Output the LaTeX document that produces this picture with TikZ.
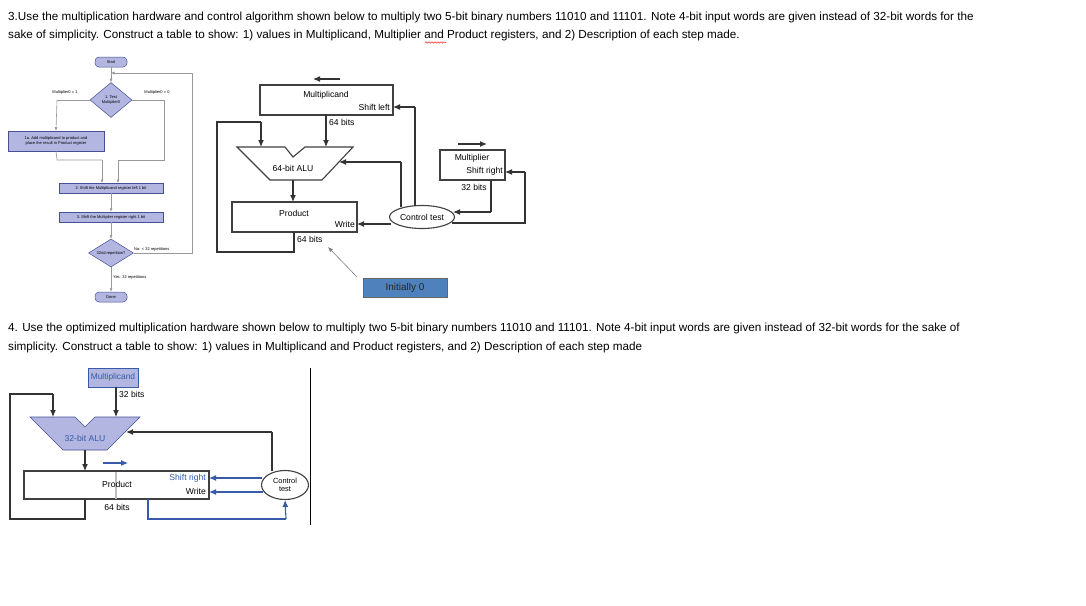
\documentclass[tikz,border=0pt]{standalone}
\usepackage{fontspec}
\setmainfont{Liberation Sans}
\usetikzlibrary{arrows.meta,shapes.geometric,decorations.pathmorphing}
\definecolor{lav}{RGB}{178,182,224}
\definecolor{lavb}{RGB}{70,80,150}
\definecolor{bt}{RGB}{55,90,170}
\definecolor{ib}{RGB}{79,129,189}
\begin{document}
\begin{tikzpicture}[x=1pt,y=-1pt,
  q/.style={anchor=west,font=\fontsize{11.7}{13}\selectfont,inner sep=0},
  fc/.style={font=\fontsize{4}{4.6}\selectfont,align=center,inner sep=0},
  fbox/.style={draw=lavb,fill=lav,line width=0.5pt,inner sep=0},
  pill/.style={draw=lavb,fill=lav,rounded corners=4pt,line width=0.5pt},
  fl/.style={draw=gray!80,line width=0.6pt},
  fa/.style={fl,-{Latex[length=3.5pt,width=3pt]}},
  reg/.style={draw=black!75,line width=1.1pt},
  dl/.style={draw=black!80,line width=1.1pt},
  da/.style={dl,-{Latex[length=7pt,width=6pt]}},
  ba/.style={draw=bt,line width=1.1pt,-{Latex[length=7pt,width=6pt]}},
  lb/.style={font=\fontsize{8.6}{9.5}\selectfont,inner sep=0},
  lbs/.style={font=\fontsize{7.4}{8.4}\selectfont,inner sep=0,align=center}]
\useasboundingbox[fill=white] (0,0) rectangle (1086,605);
% questions
\node[q] (q3a) at (8,17) {3.Use the multiplication hardware and control algorithm shown below to multiply two 5-bit binary numbers 11010 and 11101. Note 4-bit input words are given instead of 32-bit words for the};
\node[q] (q3b) at (8,35) {sake of simplicity. Construct a table to show: 1) values in Multiplicand, Multiplier and Product registers, and 2) Description of each step made.};
\draw[red!70,line width=0.7pt,decorate,decoration={snake,amplitude=0.6pt,segment length=3pt}] (425,42.5) -- (446,42.5);
\node[q] (q4a) at (8,328) {4. Use the optimized multiplication hardware shown below to multiply two 5-bit binary numbers 11010 and 11101. Note 4-bit input words are given instead of 32-bit words for the sake of};
\node[q] (q4b) at (8,347) {simplicity. Construct a table to show: 1) values in Multiplicand and Product registers, and 2) Description of each step made};

% ---------- flowchart ----------
\node[pill,minimum width=32pt,minimum height=10pt,fc] (start) at (111,62) {Start};
\node[diamond,fbox,minimum width=42pt,minimum height=35pt,aspect=1.2,fc] (d1) at (111,100) {1.\ Test\\Multiplier0};
\node[fbox,minimum width=96pt,minimum height=20pt,fc] (b1) at (56,141) {1a.\ Add multiplicand to product and\\place the result in Product register};
\node[fbox,minimum width=104pt,minimum height=10pt,fc] (b2) at (111,188) {2.\ Shift the Multiplicand register left 1 bit};
\node[fbox,minimum width=104pt,minimum height=10pt,fc] (b3) at (111,217) {3.\ Shift the Multiplier register right 1 bit};
\node[diamond,fbox,minimum width=45pt,minimum height=28pt,aspect=1.6,fc] (d2) at (111,253) {32nd repetition?};
\node[pill,minimum width=32pt,minimum height=10pt,fc] (done) at (111,297) {Done};
\coordinate (r1) at (192,73);
\draw[fa] (start) -- (d1);
\draw[fl] (d1.west) -- (57,100);
\draw[fa] (57,100) -- (b1.north);
\draw[fl] (d1.east) -- (164,100) -- (164,160) -- (118,160);
\draw[fa] (118,160) -- (118,183);
\draw[fl] (b1.south) -- (57,160) -- (102,160);
\draw[fa] (102,160) -- (102,183);
\draw[fa] (b2) -- (b3);
\draw[fa] (b3) -- (d2);
\draw[fa] (d2.east) -- (192,253) -- (r1) -- (111,73);
\draw[fa] (d2) -- (done);
\node[fc] at (65,92) {Multiplier0 = 1};
\node[fc] at (157,92) {Multiplier0 = 0};
\node[fc,anchor=west] at (134,249) {No: < 32 repetitions};
\node[fc,anchor=west] at (113,277) {Yes: 32 repetitions};

% ---------- top hardware ----------
\node[reg,draw,minimum width=133pt,minimum height=30pt] (mc) at (326.5,100) {};
\node[lb] at (326,95) {Multiplicand};
\node[lb,anchor=east] at (390,107) {Shift left};
\draw[dl,-{Latex[length=7pt,width=6pt]}] (340,79) -- (313,79);
\node[lb,anchor=west] at (329,122) {64 bits};
\draw[reg,fill=white] (237,147) -- (285,147) -- (293,157) -- (305,147) -- (353,147) -- (322,180) -- (270,180) -- cycle;
\node[lb] (alu) at (293,168) {64-bit ALU};
\draw[da] (326,115) -- (326,147);
\node[reg,draw,minimum width=125pt,minimum height=30pt] (pr) at (294.5,217) {};
\node[lb] at (294,213) {Product};
\node[lb,anchor=east] at (355,224) {Write};
\draw[da] (293,180) -- (293,202);
\node[lb,anchor=west] at (297,239) {64 bits};
\draw[dl] (294,232) -- (294,252) -- (217,252) -- (217,122) -- (261,122);
\draw[da] (261,122) -- (261,147);
\node[ellipse,reg,draw,minimum width=65pt,minimum height=23pt,inner sep=0,lb] (ct) at (422,217) {Control test};
\draw[da] (391,224) -- (357,224);
\draw[dl] (401,207) -- (401,162);
\draw[da] (401,162) -- (339,162);
\draw[dl] (415,206) -- (415,107);
\draw[da] (415,107) -- (393,107);
\node[reg,draw,minimum width=65pt,minimum height=30pt] (mp) at (472.5,165) {};
\node[lb] at (472,158) {Multiplier};
\node[lb,anchor=east] at (503,171) {Shift right};
\draw[dl,-{Latex[length=7pt,width=6pt]}] (458,144) -- (487,144);
\node[lb] at (474,187) {32 bits};
\draw[dl] (491,180) -- (491,212);
\draw[da] (491,212) -- (453,212);
\draw[dl] (452,223) -- (525,223) -- (525,172);
\draw[da] (525,172) -- (505,172);
\node[draw=black!60,fill=ib,minimum width=84pt,minimum height=19pt,inner sep=0,font=\fontsize{10}{11}\selectfont,text=black!85] (init) at (405,287.5) {Initially 0};
\draw[draw=gray,line width=0.6pt,-{Latex[length=5pt,width=4pt]}] (357,277) -- (328,247);

% ---------- bottom hardware ----------
\node[fbox,draw=bt,line width=1pt,minimum width=50pt,minimum height=19pt,text=bt,font=\fontsize{8.4}{9}\selectfont] (mc2) at (113,377.5) {Multiplicand};
\node[lb,anchor=west] at (119,394) {32 bits};
\draw[draw=lavb,fill=lav,line width=0.6pt] (30,417) -- (75,417) -- (85,427) -- (95,417) -- (140,417) -- (107,450) -- (63,450) -- cycle;
\node[lb,text=bt] (alu2) at (85,438) {32-bit ALU};
\draw[da] (116,387) -- (116,417);
\node[reg,draw,minimum width=185pt,minimum height=28pt] (pr2) at (116.5,485) {};
\draw[gray!50,line width=2.5pt] (116,471.5) -- (116,498.5);
\node[lb] at (117,484) {Product};
\node[lb,anchor=east,text=bt] at (206,478) {Shift right};
\node[lb,anchor=east] at (206,491) {Write};
\node[lb] at (117,507) {64 bits};
\draw[draw=bt,line width=1.1pt,-{Latex[length=7pt,width=6pt]}] (103,463) -- (128,463);
\draw[da] (85,450) -- (85,471);
\draw[dl] (85,499) -- (85,519) -- (10,519) -- (10,394) -- (53,394);
\draw[da] (53,394) -- (53,417);
\node[ellipse,reg,draw,minimum width=47pt,minimum height=29pt,inner sep=0,lbs] (ct2) at (285,485) {Control\\test};
\draw[ba] (262,478) -- (209,478);
\draw[ba] (263,492) -- (209,492);
\draw[dl] (272,471) -- (272,432);
\draw[da] (272,432) -- (126,432);
\draw[draw=bt,line width=1.1pt] (148,499) -- (148,519) -- (286,519);
\draw[ba] (286,519) -- (ct2.south);
\draw[black,line width=1pt] (310,368) -- (310,525);
\end{tikzpicture}
\end{document}
